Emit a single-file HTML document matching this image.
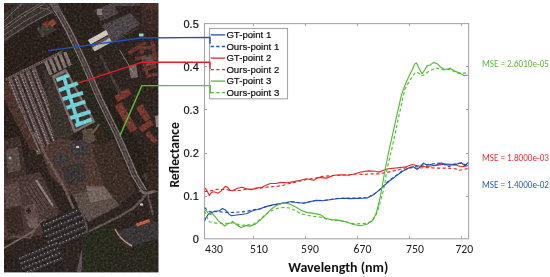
<!DOCTYPE html>
<html><head><meta charset="utf-8"><title>Reflectance spectra</title>
<style>html,body{margin:0;padding:0;background:#fff}body{width:550px;height:277px;position:relative;overflow:hidden}</style>
</head><body>
<svg width="550" height="277" viewBox="0 0 550 277" style="position:absolute;left:0;top:0"><clipPath id="ae"><rect x="4" y="3" width="154.5" height="269.5"/></clipPath>
<filter id="bl" x="0" y="0" width="1" height="1"><feGaussianBlur stdDeviation="0.5"/></filter>
<filter id="tx" x="0" y="0" width="1" height="1" color-interpolation-filters="sRGB"><feGaussianBlur in="SourceGraphic" stdDeviation="0.5" result="b"/><feTurbulence type="fractalNoise" baseFrequency="0.45" numOctaves="3" seed="7"/><feColorMatrix type="matrix" values="0.33 0.33 0.33 0 0  0.33 0.33 0.33 0 0  0.33 0.33 0.33 0 0  0 0 0 0 1" result="n"/><feBlend in="n" in2="b" mode="soft-light"/></filter>
<g clip-path="url(#ae)"><g filter="url(#tx)">
<rect x="4" y="3" width="154.5" height="269.5" fill="#2e2420"/>
<polygon points="4,42 30,24 52,12 62,40 62,51 6,78 4,78" fill="#2a201b"/>
<polygon points="4,13 20,3 53,3 52,13 30,25 4,43" fill="#3a322e"/>
<path d="M4,21 Q12,12 23,3" fill="none" stroke="#756c68" stroke-width="0.9"/>
<path d="M4,27 Q20,14 41,3" fill="none" stroke="#756c68" stroke-width="0.9"/>
<path d="M4,30 Q22,16 45,3" fill="none" stroke="#756c68" stroke-width="0.9"/>
<path d="M4,35 Q25,20 50,7" fill="none" stroke="#756c68" stroke-width="0.9"/>
<path d="M4,40 Q28,24 52,12" fill="none" stroke="#756c68" stroke-width="0.9"/>
<path d="M4,4 H48" fill="none" stroke="#4e4642" stroke-width="1.2"/>
<path d="M40,8 Q50,8 56,16" fill="none" stroke="#6a625e" stroke-width="1"/>
<polygon points="36,28 50,22 56,30 42,38" fill="#3e3a30"/>
<polygon points="42,24 47,21 51,24 46,28" fill="#7a3a30"/>
<polygon points="48,22 53,19 57,23 52,27" fill="#8c3e33"/>
<polygon points="49.5,3 65,30 80.5,63 96.5,100 113.7,135 122.5,155 131,175 140,190 147,190 138,175 129.5,155 120.7,135 103.5,100 87.5,63 72,30 56.5,3" fill="#443a38"/>
<path d="M50.1,3 L65.6,30 L81.1,63 L97.1,100 L114.3,135 L123.1,155 L131.6,175 L140.6,190" fill="none" stroke="#867a76" stroke-width="1.1"/>
<path d="M55.9,3 L71.4,30 L86.9,63 L102.9,100 L120.10000000000001,135 L128.9,155 L137.4,175 L146.4,190" fill="none" stroke="#867a76" stroke-width="1.1"/>
<path d="M53.0,3 L68.5,30 L84.0,63 L100.0,100 L117.2,135 L126.0,155 L134.5,175 L143.5,190" fill="none" stroke="#6a5e5a" stroke-width="0.8"/>
<polygon points="49.5,3 57.5,3 62,12 54,12" fill="#5e5654"/>
<path d="M72,3 L84,30" fill="none" stroke="#4a403c" stroke-width="1.5"/>
<path d="M100,55 L121,95" fill="none" stroke="#433834" stroke-width="3"/>
<path d="M128,138 L150,185" fill="none" stroke="#463a36" stroke-width="3"/>
<path d="M140,190 Q144,194 148,193 L159,190" fill="none" stroke="#6e6462" stroke-width="3"/>
<path d="M146,194 Q140,203 132,209 L120,216 L106,223 L90,231 L82,252 L78,272" fill="none" stroke="#5e5654" stroke-width="2.4"/>
<path d="M148,195 L153,215" fill="none" stroke="#5e5654" stroke-width="2"/>
<rect x="140" y="203.5" width="3" height="2" fill="#d8d4d0"/>
<path d="M5,80 L63,51.5" fill="none" stroke="#6e5c58" stroke-width="2.6"/>
<path d="M5,80 L63,51.5" fill="none" stroke="#2a2020" stroke-width="1" stroke-dasharray="1 1.6"/>
<polygon points="7,80 36,66.5 50,100 61,143 52,153 38,151" fill="#33292a"/>
<path d="M10.0,79.0 L39.0,154.0" fill="none" stroke="#6c5a57" stroke-width="4.2"/>
<path d="M9.6,82.0 L38.0,153.0" fill="none" stroke="#c0b8b4" stroke-width="1.0" stroke-dasharray="0.9 2.2"/>
<path d="M11.6,83.0 L39.6,153.0" fill="none" stroke="#241c1c" stroke-width="0.8" stroke-dasharray="1.5 1.5"/>
<path d="M15.8,76.25 L44.8,151.25" fill="none" stroke="#6c5a57" stroke-width="4.2"/>
<path d="M15.4,79.25 L43.8,150.25" fill="none" stroke="#c0b8b4" stroke-width="1.0" stroke-dasharray="0.9 2.2"/>
<path d="M17.400000000000002,80.25 L45.400000000000006,150.25" fill="none" stroke="#241c1c" stroke-width="0.8" stroke-dasharray="1.5 1.5"/>
<path d="M21.6,73.5 L50.6,148.5" fill="none" stroke="#6c5a57" stroke-width="4.2"/>
<path d="M21.200000000000003,76.5 L49.6,147.5" fill="none" stroke="#c0b8b4" stroke-width="1.0" stroke-dasharray="0.9 2.2"/>
<path d="M23.200000000000003,77.5 L51.2,147.5" fill="none" stroke="#241c1c" stroke-width="0.8" stroke-dasharray="1.5 1.5"/>
<path d="M27.4,70.75 L56.4,145.75" fill="none" stroke="#6c5a57" stroke-width="4.2"/>
<path d="M27.0,73.75 L55.4,144.75" fill="none" stroke="#c0b8b4" stroke-width="1.0" stroke-dasharray="0.9 2.2"/>
<path d="M29.0,74.75 L57.0,144.75" fill="none" stroke="#241c1c" stroke-width="0.8" stroke-dasharray="1.5 1.5"/>
<path d="M33.2,68.0 L62.2,143.0" fill="none" stroke="#6c5a57" stroke-width="4.2"/>
<path d="M32.800000000000004,71.0 L61.2,142.0" fill="none" stroke="#c0b8b4" stroke-width="1.0" stroke-dasharray="0.9 2.2"/>
<path d="M34.800000000000004,72.0 L62.800000000000004,142.0" fill="none" stroke="#241c1c" stroke-width="0.8" stroke-dasharray="1.5 1.5"/>
<path d="M7,82 L40,152" fill="none" stroke="#7a6a66" stroke-width="1.5"/>
<polygon points="42,66 50.7,73 73.7,133 64,150 56,148 48,100" fill="#3a322d"/>
<polygon points="62,51 71.5,44 80.5,63 96.5,100 113.7,135 100,150 85,128" fill="#29271e"/>
<polygon points="51.5,76 66,68.5 95.5,122 74,133" fill="#7e6a67"/>
<polygon points="54.5,78.5 65.5,72.5 92.5,121 75.5,129.5" fill="#3e2f2c"/>
<polygon points="44.0,62.0 47.0,60.6 52.5,74.0 49.5,75.4" fill="#857572"/>
<polygon points="48.8,59.7 51.8,58.300000000000004 57.3,71.7 54.3,73.10000000000001" fill="#857572"/>
<polygon points="53.6,57.4 56.6,56.0 62.1,69.4 59.1,70.8" fill="#857572"/>
<polygon points="58.4,55.1 61.4,53.7 66.9,67.1 63.9,68.5" fill="#857572"/>
<polygon points="63.2,52.8 66.2,51.4 71.7,64.8 68.7,66.2" fill="#857572"/>
<path d="M64,77.6 L79.1,125.6" fill="none" stroke="#72d0d8" stroke-width="3.6"/>
<path d="M56.4,80.2 L69,75.1" fill="none" stroke="#72d0d8" stroke-width="4.0"/>
<path d="M58.9,90.3 L77.8,83.2" fill="none" stroke="#72d0d8" stroke-width="4.0"/>
<path d="M62.7,99.1 L82.9,92.8" fill="none" stroke="#72d0d8" stroke-width="4.0"/>
<path d="M66.5,107.9 L85.4,101.6" fill="none" stroke="#72d0d8" stroke-width="4.0"/>
<path d="M70.3,118 L90.5,111.7" fill="none" stroke="#72d0d8" stroke-width="4.0"/>
<path d="M75.3,125.6 L91.7,119.3" fill="none" stroke="#72d0d8" stroke-width="4.0"/>
<polygon points="4,82 8,82 38,150 30,150 4,100" fill="#4a342c"/>
<polygon points="4,100 30,150 20,160 4,150" fill="#2a201b"/>
<polygon points="60,3 95,3 102,30 86,40 72,30" fill="#2a221d"/>
<polygon points="94,10 112,3 119,13 101,21" fill="#4e4446"/>
<rect x="97" y="9" width="5" height="6" fill="#857672"/>
<rect x="112" y="3" width="30" height="3" fill="#4e4644"/>
<polygon points="102,25 131,13 140,24 111,43" fill="#4a4446"/>
<path d="M106.0,29.0 L132.0,15.0" fill="none" stroke="#585252" stroke-width="0.7"/>
<path d="M107.6,32.3 L133.6,18.3" fill="none" stroke="#585252" stroke-width="0.7"/>
<path d="M109.2,35.6 L135.2,21.6" fill="none" stroke="#585252" stroke-width="0.7"/>
<path d="M110.8,38.9 L136.8,24.9" fill="none" stroke="#585252" stroke-width="0.7"/>
<path d="M112.4,42.2 L138.4,28.2" fill="none" stroke="#585252" stroke-width="0.7"/>
<polygon points="88,40 106,30 108.5,34.5 90.5,44.5" fill="#d0c9c2"/>
<polygon points="91,45 109,35.5 110,37.5 92,47" fill="#5a5552"/>
<polygon points="92,47.5 109.5,38 112,42 94.5,51.5" fill="#bdb5ae"/>
<polygon points="140,3 159,3 159,32 142,28" fill="#3a2a25"/>
<rect x="146" y="3" width="13" height="6" fill="#4e3229"/>
<rect x="139" y="33.5" width="4.5" height="3" fill="#90d0d4"/>
<path d="M128.4,53.4 L145.7,42.6" fill="none" stroke="#66352d" stroke-width="4"/>
<path d="M140,43.7 L142.5,54.5" fill="none" stroke="#66352d" stroke-width="3.5"/>
<path d="M142.5,49 L155.5,45.8" fill="none" stroke="#66352d" stroke-width="3.5"/>
<path d="M152,41.5 L156.5,63.1" fill="none" stroke="#66352d" stroke-width="4"/>
<path d="M134.9,58.8 L153.3,55.6" fill="none" stroke="#66352d" stroke-width="3.5"/>
<polygon points="141.4,57 152,56 156.5,65.3 143,66" fill="#5e4a46"/>
<path d="M142.5,69.6 L156.5,66.4" fill="none" stroke="#66352d" stroke-width="3.5"/>
<path d="M146.8,76.1 L157.6,74" fill="none" stroke="#66352d" stroke-width="3.5"/>
<path d="M144,60 L148,78" fill="none" stroke="#66352d" stroke-width="3"/>
<polygon points="128.4,66 136,64 138.1,77.2 131,78.5" fill="#766460"/>
<path d="M119.7,50.2 L132.7,71.8" fill="none" stroke="#8a8480" stroke-width="1"/>
<polygon points="100,88 112,88 150,170 140,176" fill="#262019"/>
<path d="M116,99 L130,91" fill="none" stroke="#74392f" stroke-width="7"/>
<path d="M118,104 L134,131" fill="none" stroke="#74392f" stroke-width="8"/>
<path d="M139,106 L148,120" fill="none" stroke="#74392f" stroke-width="7"/>
<path d="M140,130 L152,122" fill="none" stroke="#74392f" stroke-width="6"/>
<path d="M147,133 L156,142" fill="none" stroke="#74392f" stroke-width="5"/>
<polygon points="155,116 159,115 159,127 156,127" fill="#8a8078"/>
<polygon points="86,131 98,124 128,183 82,183 82,140" fill="#33261f"/>
<path d="M82,142 Q92,136 99,124" fill="none" stroke="#6a5a4a" stroke-width="2.2"/>
<polygon points="82,130 92,128 96,140 84,146" fill="#5a4a40"/>
<polygon points="40,150 58,138 100,145 118,183 70,195 50,175" fill="#4e3a32"/>
<circle cx="61" cy="159.5" r="7" fill="#3e3a3c"/>
<polygon points="64,168 80,165 84,182 68,186" fill="#3a3434"/>
<polygon points="70,143 85,139 88,155 73,158" fill="#3e3a3c"/>
<rect x="76" y="146" width="3" height="2" fill="#c8c4c4"/>
<polygon points="4,140 20,136 28,185 4,188" fill="#3e302a"/>
<polygon points="6,150 18,147 21,170 8,173" fill="#5a4a44"/>
<circle cx="10" cy="158" r="1.5" fill="#7ab0b8"/>
<path d="M34,132 L48,160 L63,185 L88,240" fill="none" stroke="#6e5a54" stroke-width="2.5"/>
<polygon points="4,180 40,172 60,212 44,235 4,240" fill="#4a3834"/>
<polygon points="22,186 36,180 54,206 42,215" fill="#54423e"/>
<path d="M25,185.0 L43,212.0" fill="none" stroke="#3a2c2a" stroke-width="1"/>
<path d="M28,183.7 L46,210.7" fill="none" stroke="#3a2c2a" stroke-width="1"/>
<path d="M31,182.4 L49,209.4" fill="none" stroke="#3a2c2a" stroke-width="1"/>
<path d="M34,181.1 L52,208.1" fill="none" stroke="#3a2c2a" stroke-width="1"/>
<path d="M36,180 L53,206" fill="none" stroke="#948480" stroke-width="2.2"/>
<polygon points="4,186 18,182 22,205 6,208" fill="#5a4642"/>
<polygon points="5,210 20,206 24,232 8,236" fill="#3a2a26"/>
<polygon points="24,206 36,203 40,222 28,226" fill="#5e4a46"/>
<rect x="26" y="210" width="5" height="2" fill="#2a2020"/>
<rect x="27.5" y="208" width="2" height="6" fill="#2a2020"/>
<circle cx="32.5" cy="223" r="5" fill="#6e5a55"/>
<path d="M4,248 L32,232 L44,219" fill="none" stroke="#7a6660" stroke-width="1.6"/>
<path d="M24,215 L41,226" fill="none" stroke="#6a5652" stroke-width="1.3"/>
<path d="M10,236 L30,238 L36,228" fill="none" stroke="#6a5652" stroke-width="1.2"/>
<polygon points="40,223 80,206 88,234 50,252" fill="#2a2424"/>
<path d="M43.0,226.0 L80.0,210.0" fill="none" stroke="#3c3636" stroke-width="2.6"/>
<path d="M43.0,225.3 L80.0,209.3" fill="none" stroke="#b0a8a6" stroke-width="1.1" stroke-dasharray="1 2.6"/>
<path d="M44.6,231.6 L81.6,215.6" fill="none" stroke="#3c3636" stroke-width="2.6"/>
<path d="M44.6,230.9 L81.6,214.9" fill="none" stroke="#b0a8a6" stroke-width="1.1" stroke-dasharray="1 2.6"/>
<path d="M46.2,237.2 L83.2,221.2" fill="none" stroke="#3c3636" stroke-width="2.6"/>
<path d="M46.2,236.5 L83.2,220.5" fill="none" stroke="#b0a8a6" stroke-width="1.1" stroke-dasharray="1 2.6"/>
<path d="M47.8,242.8 L84.8,226.8" fill="none" stroke="#3c3636" stroke-width="2.6"/>
<path d="M47.8,242.10000000000002 L84.8,226.10000000000002" fill="none" stroke="#b0a8a6" stroke-width="1.1" stroke-dasharray="1 2.6"/>
<path d="M49.4,248.4 L86.4,232.4" fill="none" stroke="#3c3636" stroke-width="2.6"/>
<path d="M49.4,247.70000000000002 L86.4,231.70000000000002" fill="none" stroke="#b0a8a6" stroke-width="1.1" stroke-dasharray="1 2.6"/>
<polygon points="16,257 57,240 64,272 20,272" fill="#2a2424"/>
<path d="M19.0,259 L58.0,243" fill="none" stroke="#3c3636" stroke-width="2.6"/>
<path d="M19.0,258.3 L58.0,242.3" fill="none" stroke="#b0a8a6" stroke-width="1.1" stroke-dasharray="1 2.6"/>
<path d="M20.6,264 L59.6,248" fill="none" stroke="#3c3636" stroke-width="2.6"/>
<path d="M20.6,263.3 L59.6,247.3" fill="none" stroke="#b0a8a6" stroke-width="1.1" stroke-dasharray="1 2.6"/>
<path d="M22.2,269 L61.2,253" fill="none" stroke="#3c3636" stroke-width="2.6"/>
<path d="M22.2,268.3 L61.2,252.3" fill="none" stroke="#b0a8a6" stroke-width="1.1" stroke-dasharray="1 2.6"/>
<path d="M23.8,274 L62.8,258" fill="none" stroke="#3c3636" stroke-width="2.6"/>
<path d="M23.8,273.3 L62.8,257.3" fill="none" stroke="#b0a8a6" stroke-width="1.1" stroke-dasharray="1 2.6"/>
<polygon points="4,252 16,257 20,272 4,272" fill="#2a221e"/>
<path d="M78,205 Q90,225 86,240 L80,272" fill="none" stroke="#5a504e" stroke-width="2"/>
<polygon points="72,194.7 104.6,186.6 119.5,205.5 88.4,221.8" fill="#5c4e49"/>
<polygon points="86,186 104.6,186.6 112,198 90,203" fill="#74645e"/>
<polygon points="62,167 84,162 86,178 66,182" fill="#3a3434"/>
<polygon points="92,148 114,140 129,175 136,190 120,205 104,186" fill="#3c2e27"/>
<polygon points="82,235 114,222 126,248 110,272 82,272" fill="#2a2a1e"/>
<polygon points="110,250 130,246 159,240 159,272 105,272" fill="#2a281e"/>
<polygon points="118,232 150,219 159,224 159,238 126,248" fill="#3a3638"/>
<polygon points="136,223.5 149,219 150,222 137,226.5" fill="#c0603f"/>
<path d="M115,229 Q120,240 132,246" fill="none" stroke="#c08a80" stroke-width="1.5"/>
<polygon points="146,165 159,160 159,192 148,188" fill="#33271f"/>
</g>
</g><rect x="204.5" y="23.6" width="264.1" height="215.20000000000002" fill="none" stroke="#a6a6a6" stroke-width="1.1"/><path d="M253.5,238.8v-2.5M253.5,23.6v2.5M305.5,238.8v-2.5M305.5,23.6v2.5M357.5,238.8v-2.5M357.5,23.6v2.5M409.5,238.8v-2.5M409.5,23.6v2.5M461.5,238.8v-2.5M461.5,23.6v2.5M204.5,196.5h2.5M468.6,196.5h-2.5M204.5,153.5h2.5M468.6,153.5h-2.5M204.5,109.5h2.5M468.6,109.5h-2.5M204.5,66.5h2.5M468.6,66.5h-2.5" stroke="#a6a6a6" stroke-width="1" fill="none"/><clipPath id="c"><rect x="204.5" y="23.5" width="264" height="215"/></clipPath><g clip-path="url(#c)" fill="none" stroke-width="1.15" stroke-linejoin="round"><polyline points="204.5,188.6 205.7,188.6 207.5,191.8 209.4,195.5 211.2,192.7 213,191.8 215.7,192.3 218,193.2 221.2,190.9 225.3,186.4 227.5,187.3 230.3,190.5 233,190.6 237.5,188.2 242.1,187.3 245.7,188.6 249.4,189.4 251.5,189.6 255.9,188.1 261.6,187.4 266,185.3 270.3,183.5 276.1,183.5 280.4,182.4 287.6,182.8 293.4,181.6 300.6,180.2 306.4,178.8 313.7,180.3 318,177.4 326.6,178.1 333.9,175.2 341.1,174.8 348.3,175.2 355.5,173.8 359.8,172.3 368.5,170.9 375.4,171.2 379,172.1 383.5,170.3 388.1,168.8 397.1,167.9 406.1,166.7 412.4,164.5 416.9,165.8 420,166.3 425.2,166.7 432.4,165.8 439.7,164.9 446.9,164 454.1,164.5 461.3,166.7 468,165.8" stroke="#ee2424"/><polyline points="204.5,191.4 206.6,191.4 210.3,190.9 216.6,189.4 221.2,189.5 226.6,189.5 230.3,190.5 239.4,190.5 244.8,189.5 253,189.1 254.4,188.9 267.4,187.1 276.1,186.4 283.3,185.3 290.5,183.1 297.7,181.6 306.4,179.5 314,178.5 322.3,176.4 333.9,175.5 348.3,174.9 357,173.8 362.7,174.5 370,173.9 379,173.9 388.1,172.1 397.1,170.3 406.1,167.6 418,168.1 427,167.6 436,168.1 445,168.1 454.1,168.5 459.5,170.3 468,168.5" stroke="#ee2424" stroke-dasharray="3.2 2.4"/><polyline points="204.5,221.1 206.3,217.3 208.4,214.1 211.7,212.5 214.9,211.4 219.3,210.8 222.5,208.5 225.8,210.3 229,214.1 231.2,215.7 234.8,215.2 240.6,214.5 246.4,213.8 251.4,211.2 254.3,210.2 260.1,208.7 265.9,206.6 271.7,205.1 278.9,203.7 286.1,202.5 291.9,201.5 295,202.3 303.7,203.3 309.5,201.8 316.7,200.4 322.5,200.8 329.7,199.8 336.9,198.7 345,198.3 349,198.6 358,198.4 367.1,198 372.5,195.3 376.1,192.6 381.5,188.1 388.1,182 395.3,176.6 402.5,171.2 409.7,167.6 413.3,166.7 416.9,169.4 419.6,167.6 423.4,163 427,165.2 430.6,164.5 434.2,165.8 441.5,163 446.9,164.9 454.1,164.9 461.3,162.7 465,165.8 468,162.7" stroke="#1f50b6"/><polyline points="204.5,207.5 206.3,209.2 209.5,211.9 213.8,211.4 220.3,211.9 231.2,212.5 240,212 246,211.5 253,209.8 260,208.9 266,206.8 272,205.3 279,203.9 286,202.7 292,201.8 298,202.6 304,203 310,201.6 317,200.2 323,200.5 330,199.6 337,198.5 345,198.1 358,198.1 367,197.6 373,194.8 377,192 382,187.6 388,181.5 395,176.2 402,171 410,167.6 420,165.5 424,164.9 440,163 449,166.7 454,164 461,163 466,164.9 468,164" stroke="#1f50b6" stroke-dasharray="3.2 2.4"/><polyline points="204.5,209.8 206.3,210.8 208.4,213.5 210.6,214.6 212.2,213.5 214.9,216.3 218.2,220.6 221.4,223.3 224.7,226 227.9,223.8 231.2,222.8 232.6,221.4 235.5,223.9 240.9,227.5 246.4,225.6 250,226.1 255.8,223.9 261.6,218.8 267.3,213.1 271.7,208.7 276,205.8 281.1,203.7 285.4,203 290.5,204.4 296.2,207.3 300.8,210.2 306.6,212.4 313.8,213.4 320.3,214.6 325.3,218.2 331.1,219.6 338.4,220.1 345.4,221.5 352.6,224.2 359.9,225.7 367.1,224.2 372.5,220.6 376.1,213.4 378.8,203.5 380.8,194 382.6,184 385.3,168.5 389.1,150 390.2,145 400.3,100 402.1,92.9 404.8,85.7 408.4,77.6 412,70.3 414.7,64 416.5,63.1 418.3,66.7 422,73.8 425,69.5 427,65.9 429.7,65.3 433.3,62.6 437,63.5 440.6,67.1 444.2,69.5 450.5,68.4 454.1,70.8 459.5,73.1 464,75.6 468,75.3" stroke="#55bb33"/><polyline points="204.5,210.8 205.7,214.1 208.4,220 209.5,221.7 213.8,222.8 220.3,223.3 229,223.3 233,222.8 240.6,225.3 253,224.6 260,219.5 266,214 273.8,209.5 278.9,208 284.7,207.3 289,208 294.8,210.2 300.8,213.8 309.5,215.7 316.7,216.7 322.5,217.5 325.3,218.9 331,219.8 338,220.5 345,221.8 355.3,223.9 367.1,223.3 372.5,220.5 376.5,214 379.5,205 381.5,197 383.5,190 385,182 387.1,168.5 391.6,150 402.4,100 404.8,89.3 409.3,81.2 412.9,75.8 415.6,72.1 418.3,73 421,75.8 423.4,75.3 428.8,71.3 436,68 439.7,69 445,69.9 450.5,69.5 457.7,73.1 464.9,73.1 468,72.6" stroke="#55bb33" stroke-dasharray="3.2 2.4"/></g><rect x="209.5" y="28.5" width="78" height="70.3" fill="#fff" stroke="#a6a6a6" stroke-width="1.1"/><line x1="210.7" y1="34.9" x2="225.2" y2="34.9" stroke="#1f50b6" stroke-width="1.3"/><text x="226.4" y="38.25" textLength="44.9" lengthAdjust="spacingAndGlyphs" font-family="Liberation Sans, Arial, sans-serif" font-size="9.9" fill="#111" stroke="#111" stroke-width="0.22">GT-point 1</text><line x1="210.7" y1="46.5" x2="225.2" y2="46.5" stroke="#1f50b6" stroke-width="1.3" stroke-dasharray="3.2 2.4"/><text x="226.4" y="49.85" textLength="52.9" lengthAdjust="spacingAndGlyphs" font-family="Liberation Sans, Arial, sans-serif" font-size="9.9" fill="#111" stroke="#111" stroke-width="0.22">Ours-point 1</text><line x1="210.7" y1="58.1" x2="225.2" y2="58.1" stroke="#ee2424" stroke-width="1.3"/><text x="226.4" y="61.45" textLength="44.9" lengthAdjust="spacingAndGlyphs" font-family="Liberation Sans, Arial, sans-serif" font-size="9.9" fill="#111" stroke="#111" stroke-width="0.22">GT-point 2</text><line x1="210.7" y1="69.6" x2="225.2" y2="69.6" stroke="#ee2424" stroke-width="1.3" stroke-dasharray="3.2 2.4"/><text x="226.4" y="72.94999999999999" textLength="52.9" lengthAdjust="spacingAndGlyphs" font-family="Liberation Sans, Arial, sans-serif" font-size="9.9" fill="#111" stroke="#111" stroke-width="0.22">Ours-point 2</text><line x1="210.7" y1="81.1" x2="225.2" y2="81.1" stroke="#55bb33" stroke-width="1.3"/><text x="226.4" y="84.44999999999999" textLength="44.9" lengthAdjust="spacingAndGlyphs" font-family="Liberation Sans, Arial, sans-serif" font-size="9.9" fill="#111" stroke="#111" stroke-width="0.22">GT-point 3</text><line x1="210.7" y1="92.6" x2="225.2" y2="92.6" stroke="#55bb33" stroke-width="1.3" stroke-dasharray="3.2 2.4"/><text x="226.4" y="95.94999999999999" textLength="52.9" lengthAdjust="spacingAndGlyphs" font-family="Liberation Sans, Arial, sans-serif" font-size="9.9" fill="#111" stroke="#111" stroke-width="0.22">Ours-point 3</text><polyline points="48.2,50.6 141,38 210,37.4 210,43.8" fill="none" stroke="#2152b2" stroke-width="1.4"/><polyline points="77.9,83.1 142,62.2 210,62.2 210,68.8" fill="none" stroke="#e41f26" stroke-width="1.4"/><polyline points="120,135.6 141.8,85.6 210.3,85.6 210.3,93.5" fill="none" stroke="#5cbd3a" stroke-width="1.4"/><text x="198.8" y="27.800000000000004" text-anchor="end" font-family="Liberation Sans, Arial, sans-serif" font-size="11" fill="#111" stroke="#111" stroke-width="0.2">0.5</text><text x="198.8" y="70.84" text-anchor="end" font-family="Liberation Sans, Arial, sans-serif" font-size="11" fill="#111" stroke="#111" stroke-width="0.2">0.4</text><text x="198.8" y="113.88000000000002" text-anchor="end" font-family="Liberation Sans, Arial, sans-serif" font-size="11" fill="#111" stroke="#111" stroke-width="0.2">0.3</text><text x="198.8" y="156.92" text-anchor="end" font-family="Liberation Sans, Arial, sans-serif" font-size="11" fill="#111" stroke="#111" stroke-width="0.2">0.2</text><text x="198.8" y="199.96" text-anchor="end" font-family="Liberation Sans, Arial, sans-serif" font-size="11" fill="#111" stroke="#111" stroke-width="0.2">0.1</text><text x="198.8" y="243.0" text-anchor="end" font-family="Liberation Sans, Arial, sans-serif" font-size="11" fill="#111" stroke="#111" stroke-width="0.2">0</text><text x="214" y="252.6" text-anchor="middle" textLength="17.78" lengthAdjust="spacingAndGlyphs" font-family="Carlito, Liberation Sans, sans-serif" font-size="11.7" fill="#1a1a1a">430</text><text x="259" y="252.6" text-anchor="middle" textLength="17.78" lengthAdjust="spacingAndGlyphs" font-family="Carlito, Liberation Sans, sans-serif" font-size="11.7" fill="#1a1a1a">510</text><text x="310" y="252.6" text-anchor="middle" textLength="17.78" lengthAdjust="spacingAndGlyphs" font-family="Carlito, Liberation Sans, sans-serif" font-size="11.7" fill="#1a1a1a">590</text><text x="362.5" y="252.6" text-anchor="middle" textLength="17.78" lengthAdjust="spacingAndGlyphs" font-family="Carlito, Liberation Sans, sans-serif" font-size="11.7" fill="#1a1a1a">670</text><text x="415" y="252.6" text-anchor="middle" textLength="17.78" lengthAdjust="spacingAndGlyphs" font-family="Carlito, Liberation Sans, sans-serif" font-size="11.7" fill="#1a1a1a">750</text><text x="464.3" y="252.6" text-anchor="middle" textLength="17.78" lengthAdjust="spacingAndGlyphs" font-family="Carlito, Liberation Sans, sans-serif" font-size="11.7" fill="#1a1a1a">720</text><text x="338.3" y="272" text-anchor="middle" textLength="100.14" lengthAdjust="spacingAndGlyphs" font-family="Carlito, Liberation Sans, sans-serif" font-weight="bold" font-size="14" fill="#111">Wavelength (nm)</text><text transform="translate(178.5,154.9) rotate(-90)" text-anchor="middle" textLength="65.39" lengthAdjust="spacingAndGlyphs" font-family="Carlito, Liberation Sans, sans-serif" font-weight="bold" font-size="13.6" fill="#111">Reflectance</text><text x="482" y="67.0" textLength="66.91" lengthAdjust="spacingAndGlyphs" font-family="Carlito, Liberation Sans, sans-serif" font-size="9.1" fill="#5cb840">MSE = 2.6010e-05</text><text x="482" y="161.4" textLength="66.91" lengthAdjust="spacingAndGlyphs" font-family="Carlito, Liberation Sans, sans-serif" font-size="9.1" fill="#e83030">MSE = 1.8000e-03</text><text x="482" y="187.6" textLength="66.91" lengthAdjust="spacingAndGlyphs" font-family="Carlito, Liberation Sans, sans-serif" font-size="9.1" fill="#2a5cb0">MSE = 1.4000e-02</text></svg>
</body></html>
